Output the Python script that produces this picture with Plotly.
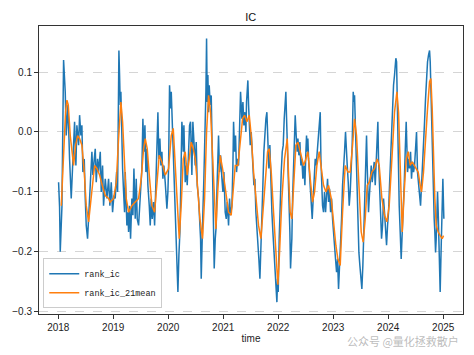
import plotly.graph_objects as go

# ---- data (decimal years) ----
RANK_IC_T = [
2018.006,2018.024,2018.036,2018.067,2018.097,2018.127,2018.145,2018.176,2018.206,2018.236,
2018.267,2018.297,2018.321,2018.339,2018.370,2018.388,2018.412,2018.430,2018.448,2018.473,
2018.491,2018.509,2018.533,2018.552,2018.582,2018.612,2018.630,2018.655,2018.673,2018.691,
2018.715,2018.733,2018.764,2018.782,2018.806,2018.824,2018.855,2018.885,2018.915,2018.939,
2018.964,2018.988,2019.012,2019.036,2019.061,2019.079,2019.091,2019.103,2019.115,2019.127,
2019.139,2019.158,2019.170,2019.188,2019.206,2019.218,2019.236,2019.248,2019.267,2019.279,
2019.297,2019.315,2019.339,2019.358,2019.376,2019.388,2019.400,2019.418,2019.436,2019.461,
2019.491,2019.521,2019.539,2019.558,2019.576,2019.594,2019.612,2019.630,2019.655,2019.673,
2019.691,2019.709,2019.733,2019.752,2019.776,2019.794,2019.812,2019.830,2019.848,2019.867,
2019.885,2019.903,2019.921,2019.945,2019.976,2019.994,2020.006,2020.024,2020.042,2020.055,
2020.067,2020.085,2020.103,2020.115,2020.127,2020.145,2020.164,2020.176,2020.194,2020.212,
2020.224,2020.236,2020.248,2020.261,2020.273,2020.285,2020.297,2020.309,2020.327,2020.345,
2020.370,2020.388,2020.406,2020.418,2020.430,2020.448,2020.467,2020.491,2020.509,2020.527,
2020.552,2020.570,2020.588,2020.600,2020.612,2020.630,2020.648,2020.673,2020.685,2020.697,
2020.709,2020.721,2020.733,2020.745,2020.764,2020.782,2020.794,2020.806,2020.824,2020.836,
2020.855,2020.873,2020.885,2020.903,2020.915,2020.933,2020.952,2020.976,2020.994,2021.012,
2021.036,2021.055,2021.073,2021.097,2021.115,2021.133,2021.158,2021.176,2021.188,2021.206,
2021.224,2021.242,2021.261,2021.279,2021.297,2021.315,2021.327,2021.339,2021.358,2021.376,
2021.394,2021.412,2021.424,2021.436,2021.448,2021.461,2021.479,2021.491,2021.509,2021.521,
2021.539,2021.558,2021.576,2021.594,2021.612,2021.630,2021.648,2021.667,2021.685,2021.703,
2021.721,2021.739,2021.758,2021.776,2021.794,2021.812,2021.830,2021.848,2021.867,2021.885,
2021.903,2021.921,2021.939,2021.958,2021.976,2021.988,2022.000,2022.018,2022.036,2022.055,
2022.073,2022.091,2022.109,2022.127,2022.139,2022.152,2022.164,2022.176,2022.188,2022.200,
2022.212,2022.224,2022.236,2022.248,2022.261,2022.279,2022.297,2022.309,2022.327,2022.345,
2022.358,2022.376,2022.394,2022.412,2022.430,2022.448,2022.467,2022.485,2022.503,2022.515,
2022.527,2022.539,2022.552,2022.564,2022.582,2022.600,2022.618,2022.636,2022.655,2022.673,
2022.691,2022.709,2022.727,2022.745,2022.764,2022.776,2022.788,2022.806,2022.824,2022.842,
2022.861,2022.879,2022.897,2022.915,2022.933,2022.952,2022.970,2022.988,2023.006,2023.024,
2023.042,2023.061,2023.079,2023.097,2023.115,2023.133,2023.152,2023.170,2023.188,2023.206,
2023.224,2023.236,2023.255,2023.273,2023.291,2023.309,2023.327,2023.345,2023.364,2023.376,
2023.388,2023.400,2023.412,2023.424,2023.436,2023.448,2023.467,2023.485,2023.503,2023.521,
2023.539,2023.558,2023.576,2023.594,2023.606,2023.618,2023.630,2023.642,2023.655,2023.673,
2023.691,2023.709,2023.727,2023.745,2023.764,2023.782,2023.800,2023.812,2023.824,2023.842,
2023.861,2023.879,2023.897,2023.915,2023.933,2023.952,2023.970,2023.988,2024.006,2024.024,
2024.042,2024.061,2024.079,2024.097,2024.115,2024.127,2024.139,2024.152,2024.164,2024.176,
2024.188,2024.200,2024.218,2024.236,2024.255,2024.273,2024.291,2024.309,2024.327,2024.339,
2024.352,2024.370,2024.388,2024.406,2024.424,2024.442,2024.461,2024.479,2024.497,2024.515,
2024.533,2024.552,2024.570,2024.588,2024.606,2024.624,2024.642,2024.661,2024.679,2024.691,
2024.703,2024.715,2024.733,2024.752,2024.764,2024.776,2024.788,2024.800,2024.812,2024.824,
2024.836,2024.848,2024.861,2024.873,2024.885,2024.897,2024.909,2024.921,2024.933,2024.945,
2024.958,2024.970,2024.982,2024.994,2025.006,2025.012,
]
RANK_IC = [
-0.084,-0.125,-0.200,-0.125,0.120,0.067,-0.006,0.045,-0.045,-0.111,
-0.045,0.017,-0.056,0.011,-0.022,0.028,-0.006,0.011,-0.067,-0.045,
-0.111,-0.156,-0.178,-0.134,-0.089,-0.033,-0.072,-0.045,-0.028,-0.084,
-0.045,-0.067,-0.033,-0.100,-0.056,-0.123,-0.078,-0.111,-0.078,-0.123,
-0.084,-0.134,-0.106,-0.111,-0.067,-0.100,0.017,0.136,0.095,0.045,
0.067,-0.033,-0.061,-0.100,-0.134,-0.067,-0.117,-0.156,-0.134,-0.167,
-0.123,-0.178,-0.111,-0.139,-0.061,-0.106,-0.145,-0.078,-0.145,-0.156,
-0.111,-0.061,0.022,-0.033,0.011,-0.067,-0.028,-0.089,-0.123,-0.156,
-0.111,-0.145,-0.117,-0.156,-0.084,-0.033,0.033,-0.045,-0.011,-0.056,
-0.033,-0.078,-0.056,-0.084,-0.128,-0.100,-0.061,0.078,0.039,0.067,
0.033,-0.006,-0.056,-0.111,-0.156,-0.184,-0.223,-0.267,-0.206,-0.167,
-0.111,-0.045,0.017,0.000,-0.033,0.011,-0.056,-0.084,-0.056,-0.089,
-0.033,0.011,0.017,-0.045,-0.072,0.017,-0.011,-0.056,-0.017,-0.089,
-0.111,-0.156,-0.178,-0.245,-0.184,-0.134,-0.078,0.011,0.067,0.156,
0.050,0.095,0.033,0.078,0.045,0.061,-0.006,-0.056,-0.111,-0.228,
-0.178,-0.156,-0.100,-0.033,-0.006,-0.067,-0.039,-0.078,-0.100,-0.067,
-0.134,-0.145,-0.117,-0.156,-0.111,-0.139,-0.123,-0.056,0.017,-0.033,
-0.006,-0.067,-0.045,-0.056,0.011,0.067,0.045,0.022,0.050,0.011,
0.033,0.000,0.050,0.078,0.086,0.045,0.011,-0.022,0.000,-0.033,
-0.056,-0.089,-0.078,-0.134,-0.156,-0.189,-0.212,-0.245,-0.178,-0.134,
-0.089,-0.033,0.000,0.022,0.033,-0.033,-0.061,-0.022,-0.100,-0.134,
-0.167,-0.201,-0.223,-0.256,-0.284,-0.245,-0.267,-0.178,-0.111,-0.067,
-0.033,-0.022,0.022,0.045,0.067,0.022,-0.011,-0.045,-0.084,-0.123,
-0.167,-0.228,-0.201,-0.178,-0.111,-0.056,-0.006,0.028,-0.006,-0.033,
-0.011,-0.039,-0.017,-0.056,-0.045,-0.078,-0.056,-0.089,-0.033,-0.006,
-0.033,-0.011,-0.045,-0.067,-0.100,-0.123,-0.145,-0.111,-0.072,-0.045,
-0.056,-0.033,-0.011,0.011,0.033,-0.045,-0.084,-0.123,-0.134,-0.100,
-0.134,-0.100,-0.078,-0.117,-0.095,-0.134,-0.111,-0.145,-0.173,-0.201,
-0.212,-0.234,-0.212,-0.262,-0.228,-0.189,-0.145,-0.089,-0.045,-0.033,
0.000,-0.033,-0.056,-0.084,-0.123,-0.100,-0.067,-0.022,0.067,0.050,
0.061,0.017,-0.017,-0.067,-0.111,-0.156,-0.201,-0.223,-0.240,-0.262,
-0.223,-0.167,-0.111,-0.056,-0.006,-0.056,-0.089,-0.134,-0.111,-0.084,
-0.056,-0.084,-0.067,-0.050,-0.089,-0.056,-0.017,0.017,-0.045,-0.089,
-0.134,-0.178,-0.156,-0.111,-0.134,-0.167,-0.189,-0.156,-0.134,-0.089,
-0.045,0.011,0.033,0.078,0.095,0.106,0.123,0.117,0.050,-0.033,
-0.078,-0.123,-0.167,-0.212,-0.167,-0.134,-0.089,-0.033,0.017,-0.022,
-0.067,-0.045,-0.061,-0.033,-0.078,-0.050,-0.067,-0.056,-0.033,0.000,
-0.067,-0.084,-0.106,-0.123,-0.089,-0.061,-0.028,0.017,0.056,0.084,
0.095,0.117,0.128,0.136,0.117,0.067,0.011,-0.028,-0.072,-0.111,
-0.145,-0.167,-0.201,-0.178,-0.145,-0.100,-0.134,-0.201,-0.245,-0.267,
-0.212,-0.156,-0.106,-0.078,-0.123,-0.145,
]

MEAN_T = [
2018.055,2018.097,2018.133,2018.158,2018.182,2018.218,2018.255,2018.279,2018.315,2018.352,
2018.388,2018.430,2018.473,2018.509,2018.552,2018.582,2018.618,2018.661,2018.703,2018.752,
2018.800,2018.855,2018.915,2018.945,2019.006,2019.055,2019.097,2019.139,2019.170,2019.200,
2019.236,2019.279,2019.339,2019.400,2019.461,2019.509,2019.552,2019.582,2019.618,2019.661,
2019.703,2019.752,2019.794,2019.836,2019.885,2019.945,2020.006,2020.055,2020.091,2020.127,
2020.164,2020.200,2020.236,2020.273,2020.309,2020.345,2020.382,2020.418,2020.455,2020.491,
2020.527,2020.576,2020.624,2020.661,2020.697,2020.733,2020.770,2020.806,2020.842,2020.867,
2020.903,2020.945,2020.988,2021.036,2021.097,2021.145,2021.188,2021.218,2021.267,2021.309,
2021.352,2021.388,2021.430,2021.473,2021.509,2021.552,2021.594,2021.642,2021.685,2021.721,
2021.764,2021.806,2021.836,2021.873,2021.915,2021.958,2021.994,2022.024,2022.067,2022.115,
2022.164,2022.188,2022.218,2022.248,2022.279,2022.321,2022.358,2022.400,2022.461,2022.503,
2022.539,2022.582,2022.624,2022.661,2022.703,2022.745,2022.782,2022.824,2022.867,2022.915,
2022.964,2023.006,2023.048,2023.085,2023.127,2023.170,2023.218,2023.267,2023.309,2023.352,
2023.388,2023.424,2023.461,2023.509,2023.545,2023.582,2023.618,2023.655,2023.703,2023.752,
2023.800,2023.836,2023.885,2023.933,2023.976,2024.018,2024.067,2024.115,2024.158,2024.188,
2024.218,2024.255,2024.291,2024.327,2024.364,2024.400,2024.436,2024.473,2024.509,2024.545,
2024.582,2024.606,2024.642,2024.679,2024.715,2024.752,2024.776,2024.800,2024.824,2024.848,
2024.873,2024.909,2024.945,2024.982,2025.006,
]
MEAN = [
-0.123,-0.045,0.033,0.053,0.045,-0.006,-0.039,-0.056,-0.022,-0.006,
-0.011,-0.022,-0.067,-0.123,-0.150,-0.123,-0.084,-0.056,-0.061,-0.072,
-0.089,-0.106,-0.111,-0.117,-0.111,-0.084,-0.011,0.050,0.017,-0.056,
-0.111,-0.134,-0.123,-0.117,-0.111,-0.078,-0.028,-0.011,-0.028,-0.078,
-0.123,-0.134,-0.089,-0.039,-0.050,-0.072,-0.061,-0.006,0.006,-0.056,
-0.134,-0.178,-0.123,-0.045,-0.033,-0.072,-0.045,-0.017,-0.028,-0.045,
-0.084,-0.145,-0.178,-0.111,0.000,0.061,0.033,-0.045,-0.134,-0.162,
-0.095,-0.039,-0.061,-0.095,-0.134,-0.139,-0.084,-0.056,-0.056,-0.011,
0.022,0.028,0.017,0.028,-0.006,-0.067,-0.111,-0.156,-0.178,-0.134,
-0.078,-0.033,-0.028,-0.067,-0.134,-0.212,-0.255,-0.201,-0.111,-0.045,
-0.011,-0.072,-0.134,-0.145,-0.100,-0.022,-0.017,-0.033,-0.056,-0.045,
-0.033,-0.078,-0.117,-0.100,-0.056,-0.033,-0.056,-0.089,-0.100,-0.089,
-0.111,-0.156,-0.189,-0.212,-0.223,-0.134,-0.056,-0.067,-0.067,-0.022,
0.022,-0.006,-0.089,-0.167,-0.184,-0.145,-0.089,-0.084,-0.067,-0.061,
-0.045,-0.056,-0.111,-0.139,-0.150,-0.123,-0.045,0.033,0.067,0.033,
-0.056,-0.167,-0.100,-0.045,-0.033,-0.056,-0.050,-0.056,-0.061,-0.067,
-0.089,-0.100,-0.067,-0.006,0.039,0.084,0.089,0.039,-0.045,-0.111,
-0.156,-0.167,-0.173,-0.178,-0.173,
]

TICK_YEARS = [2018, 2019, 2020, 2021, 2022, 2023, 2024, 2025]
Y_TICKS = [-0.3, -0.2, -0.1, 0.0, 0.1]

fig = go.Figure()
fig.add_trace(go.Scatter(x=RANK_IC_T, y=RANK_IC, mode="lines", name="rank_ic",
                         line=dict(color="#1f77b4", width=1.5)))
fig.add_trace(go.Scatter(x=MEAN_T, y=MEAN, mode="lines", name="rank_ic_21mean",
                         line=dict(color="#ff7f0e", width=1.5)))

# the page body adds an 8px offset, so the figure is sized to fit the window
axis_font = dict(family="Liberation Sans, Arial, sans-serif", size=10, color="#222")
fig.update_layout(
    template="none",
    width=466, height=347,
    paper_bgcolor="white", plot_bgcolor="white",
    margin=dict(l=31, r=11, t=18, b=41, autoexpand=False),
    title=dict(text="IC", x=0.521, xanchor="center", xref="container",
               y=0.974, yanchor="middle", yref="container",
               font=dict(family="Liberation Sans, Arial, sans-serif", size=11, color="#111")),
    showlegend=True,
    legend=dict(x=0.01, y=0.02, xanchor="left", yanchor="bottom",
                bgcolor="white", bordercolor="#cccccc", borderwidth=1,
                font=dict(family="Liberation Mono, DejaVu Sans Mono, monospace", size=8.5, color="#222"),
                tracegroupgap=0, itemwidth=30),
    xaxis=dict(range=[2017.65, 2025.36], tickmode="array", tickvals=TICK_YEARS,
               ticktext=[str(v) for v in TICK_YEARS], showgrid=False, zeroline=False,
               automargin=False,
               showline=True, linecolor="#333", linewidth=1, mirror=True,
               ticks="outside", ticklen=4, tickcolor="#333", tickfont=axis_font,
               title=dict(text="time", standoff=2,
                          font=dict(family="Liberation Sans, Arial, sans-serif", size=10, color="#222"))),
    yaxis=dict(range=[-0.3038, 0.1768], tickmode="array", tickvals=Y_TICKS,
               tickformat=".1f", showgrid=True, gridcolor="#d5d5d5", griddash="dash",
               gridwidth=1, zeroline=False, automargin=False,
               showline=True, linecolor="#333", linewidth=1, mirror=True,
               ticks="outside", ticklen=4, tickcolor="#333", tickfont=axis_font),
)

fig.add_annotation(text="公众号 @量化拯救散户", xref="paper", yref="paper",
                   x=0.995, y=-0.093, xanchor="right", yanchor="middle", showarrow=False,
                   font=dict(family="Noto Sans CJK SC", size=11, color="rgba(175,175,175,0.85)"))

fig.write_html("out.html")
